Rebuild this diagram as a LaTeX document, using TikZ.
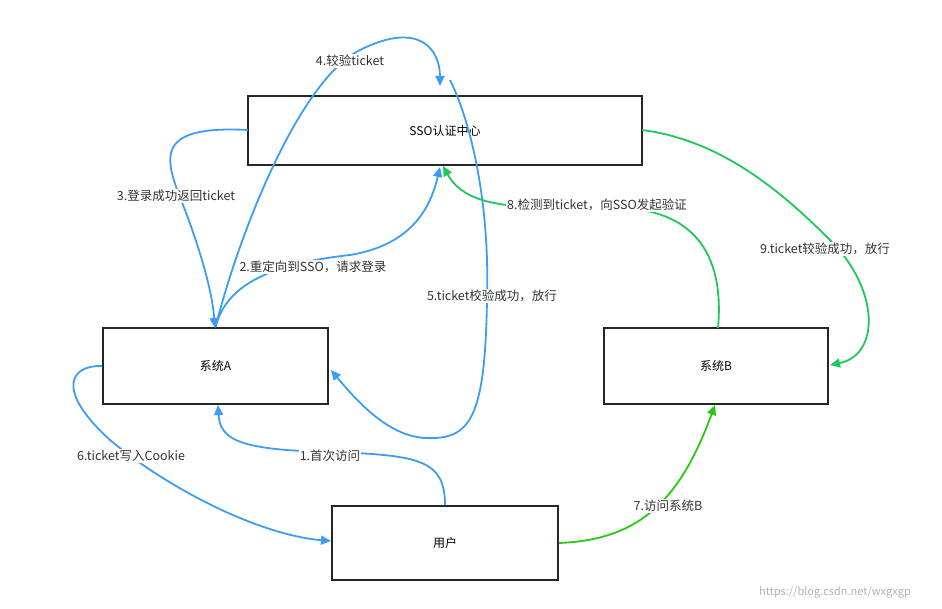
\documentclass[tikz,border=0pt]{standalone}
\usepackage{fontspec}
\setmainfont{Noto Sans CJK SC}
\usetikzlibrary{arrows.meta}
\begin{document}
\begin{tikzpicture}[x=1pt,y=-1pt,
 box/.style={draw=black!85,line width=1.6pt,minimum width=#1,inner sep=0pt,font=\fontsize{12}{14}\selectfont},
 lbl/.style={font=\fontsize{12.5}{14}\selectfont,text=black!80,fill=white,inner sep=1pt},
 bl/.style={draw={rgb,255:red,61;green,156;blue,245},line width=1.8pt,-{Triangle[length=10pt,width=9pt]}},
 gr/.style={draw={rgb,255:red,30;green,200;blue,90},line width=1.8pt,-{Triangle[length=10pt,width=9pt]}},
 gr2/.style={draw={rgb,255:red,40;green,200;blue,20},line width=1.8pt,-{Triangle[length=10pt,width=9pt]}}]
\useasboundingbox (0,0) rectangle (942,609);
\node[box,minimum width=394pt,minimum height=69pt] (sso) at (445,130.5) {SSO认证中心};
\node[box,minimum width=225pt,minimum height=76pt] (a) at (215.5,366) {系统A};
\node[box,minimum width=224pt,minimum height=76pt] (b) at (716,366) {系统B};
\node[box,minimum width=226pt,minimum height=74pt] (u) at (445,543) {用户};
\coordinate (ssoT) at (440,86);
% 1
\draw[bl] (u.north) .. controls (445,460) and (420,455) .. (330,452) .. controls (240,450) and (220,440) .. (218,405);
% 2
\draw[bl] (a.north) .. controls (225,290) and (260,265) .. (350,255) .. controls (410,245) and (430,210) .. (440,167);
% 3
\draw[bl] (248,130) .. controls (150,125) and (165,160) .. (185,210) .. controls (200,250) and (212,290) .. (215,328);
% 4
\draw[bl] (a.north) .. controls (240,230) and (300,80) .. (360,50) .. controls (420,20) and (440,50) .. (ssoT);
% 5
\draw[bl] (450,80) .. controls (470,120) and (490,200) .. (487,300) .. controls (485,420) and (470,440) .. (425,438) .. controls (390,436) and (360,405) .. (331,370);
% 6
\draw[bl] (a.west) .. controls (70,365) and (55,390) .. (110,440) .. controls (170,490) and (260,535) .. (331,541);
% 7
\draw[gr2] (u.east) .. controls (640,540) and (680,500) .. (715,405);
% 8
\draw[gr] (718,328) .. controls (725,250) and (690,210) .. (620,208) .. controls (540,206) and (470,215) .. (443,166);
% 9
\draw[gr] (642,130) .. controls (720,140) and (780,190) .. (830,240) .. controls (880,290) and (880,355) .. (830,365);
\node[lbl] (l4) at (350,61) {4.较验ticket};
\node[lbl] (l3) at (176,196) {3.登录成功返回ticket};
\node[lbl] (l8) at (597,205) {8.检测到ticket，向SSO发起验证};
\node[lbl] (l2) at (313,267) {2.重定向到SSO，请求登录};
\node[lbl] (l9) at (825,249) {9.ticket较验成功，放行};
\node[lbl] (l5) at (492,296) {5.ticket校验成功，放行};
\node[lbl] (l6) at (131,456) {6.ticket写入Cookie};
\node[lbl] (l1) at (330,456) {1.首次访问};
\node[lbl] (l7) at (668,506) {7.访问系统B};
\node[font=\fontsize{11}{12}\selectfont,text=black!30] (wm) at (835,592) {https://blog.csdn.net/wxgxgp};
\end{tikzpicture}
\end{document}
